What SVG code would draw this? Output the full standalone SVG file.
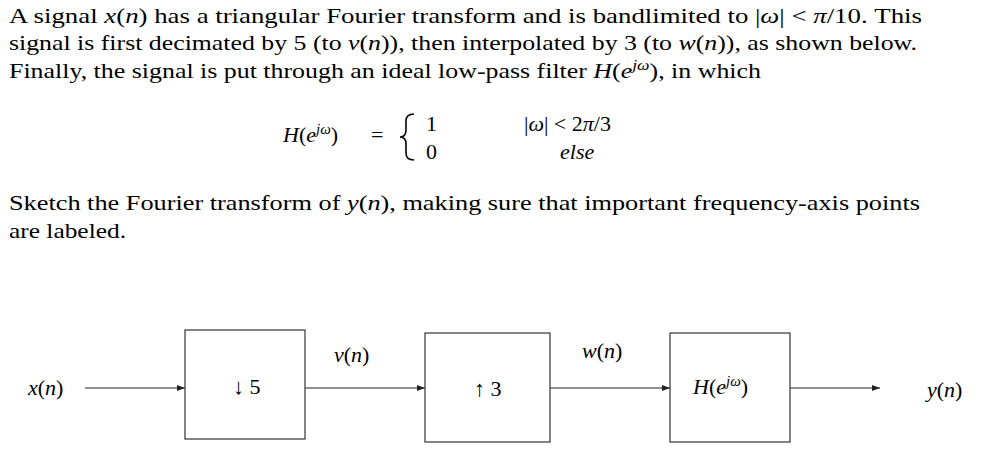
<svg xmlns="http://www.w3.org/2000/svg" width="986" height="455" viewBox="0 0 986 455">
<defs>
<style>
text{font-family:"Liberation Serif","DejaVu Serif",serif;font-size:22px;fill:#000}
.i{font-style:italic}
.box{fill:#fff;stroke:#333;stroke-width:1.2}
.ln{stroke:#222;stroke-width:1.2;fill:none}
</style>
<marker id="ah" markerWidth="8" markerHeight="6" refX="8" refY="3" orient="auto" markerUnits="userSpaceOnUse"><path d="M0,0 L8,3 L0,6 Z" fill="#222"/></marker>
</defs>
<rect width="986" height="455" fill="#fff"/>
<g id="text">
<text x="9" y="23" textLength="913" lengthAdjust="spacingAndGlyphs">A signal <tspan class="i">x</tspan>(<tspan class="i">n</tspan>) has a triangular Fourier transform and is bandlimited to |<tspan class="i">ω</tspan>| &lt; <tspan class="i">π</tspan>/10. This</text>
<text x="9" y="50" textLength="908" lengthAdjust="spacingAndGlyphs">signal is first decimated by 5 (to <tspan class="i">v</tspan>(<tspan class="i">n</tspan>)), then interpolated by 3 (to <tspan class="i">w</tspan>(<tspan class="i">n</tspan>)), as shown below.</text>
<text x="9" y="78" textLength="752" lengthAdjust="spacingAndGlyphs">Finally, the signal is put through an ideal low-pass filter <tspan class="i">H</tspan>(<tspan class="i">e</tspan><tspan class="i" font-size="15" dy="-8">jω</tspan><tspan dy="8">), in which</tspan></text>
<text x="283" y="142"><tspan class="i">H</tspan>(<tspan class="i">e</tspan><tspan class="i" font-size="15" dy="-8">jω</tspan><tspan dy="8">)</tspan></text>
<text x="371" y="142">=</text>
<path d="M414,114 Q406,114 406,121 L406,130 Q406,137 400,137 Q406,137 406,144 L406,153 Q406,160 414,160" fill="none" stroke="#000" stroke-width="1.6"/>
<text x="426" y="131" font-size="17">1</text>
<text x="426" y="159" font-size="17">0</text>
<text x="524" y="131">|<tspan class="i">ω</tspan>| &lt; 2<tspan class="i">π</tspan>/3</text>
<text x="560" y="159" class="i">else</text>
<text x="9" y="210" textLength="911" lengthAdjust="spacingAndGlyphs">Sketch the Fourier transform of <tspan class="i">y</tspan>(<tspan class="i">n</tspan>), making sure that important frequency-axis points</text>
<text x="9" y="238" textLength="117" lengthAdjust="spacingAndGlyphs">are labeled.</text>
</g>
<g id="connectors">
<line class="ln" x1="85" y1="388" x2="185" y2="388" marker-end="url(#ah)"/>
<line class="ln" x1="305" y1="388" x2="425" y2="388" marker-end="url(#ah)"/>
<line class="ln" x1="550" y1="388" x2="670" y2="388" marker-end="url(#ah)"/>
<line class="ln" x1="790" y1="388" x2="880" y2="388" marker-end="url(#ah)"/>
</g>
<g id="x"><text x="28" y="395"><tspan class="i">x</tspan>(<tspan class="i">n</tspan>)</text></g>
<g id="dec"><rect class="box" x="185" y="330" width="120" height="109"/><text x="233" y="394">↓ 5</text></g>
<g id="v"><text x="334" y="362"><tspan class="i">v</tspan>(<tspan class="i">n</tspan>)</text></g>
<g id="interp"><rect class="box" x="425" y="333" width="125" height="109"/><text x="474" y="396">↑ 3</text></g>
<g id="w"><text x="582" y="358"><tspan class="i">w</tspan>(<tspan class="i">n</tspan>)</text></g>
<g id="filter"><rect class="box" x="670" y="333" width="120" height="109"/><text x="693" y="394"><tspan class="i">H</tspan>(<tspan class="i">e</tspan><tspan class="i" font-size="15" dy="-8">jω</tspan><tspan dy="8">)</tspan></text></g>
<g id="y"><text x="927" y="397"><tspan class="i">y</tspan>(<tspan class="i">n</tspan>)</text></g>
</svg>
